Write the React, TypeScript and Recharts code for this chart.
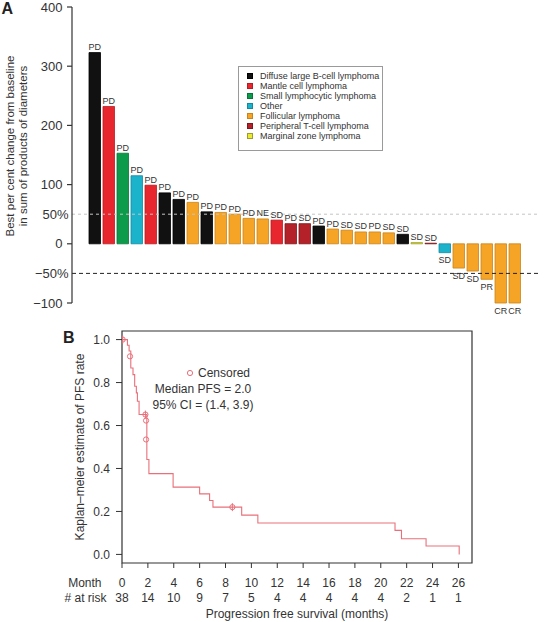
import React from "react";
import {
  BarChart,
  Bar,
  Cell,
  XAxis,
  YAxis,
  ReferenceLine,
  LabelList,
  Legend,
  ComposedChart,
  Line,
  Scatter,
  ReferenceArea,
} from "recharts";

const FONT = "'Liberation Sans', Arial, Helvetica, sans-serif";
const INK = "#333333";

// ---- Panel A: waterfall of best per cent change ----
const patients = [
  1, 2, 3, 4, 5, 6, 7, 8, 9, 10, 11, 12, 13, 14, 15, 16, 17, 18, 19, 20, 21, 22,
  23, 24, 25, 26, 27, 28, 29, 30, 31,
];
const bestChange = [
  323, 232, 153, 115, 99, 86, 75, 70, 54, 53, 50, 43, 42, 40, 34, 34, 30, 25, 23,
  20, 20, 18.5, 16, 2, 1, -15, -41, -46, -60, -100, -100,
];
const subtypes = [
  "dlbcl", "mcl", "sll", "other", "mcl", "dlbcl", "dlbcl", "fl", "dlbcl", "fl",
  "fl", "fl", "fl", "mcl", "ptcl", "ptcl", "dlbcl", "fl", "fl", "fl", "fl", "fl",
  "dlbcl", "mzl", "ptcl", "other", "fl", "fl", "fl", "fl", "fl",
];
const responses = [
  "PD", "PD", "PD", "PD", "PD", "PD", "PD", "PD", "PD", "PD", "PD", "PD", "NE",
  "SD", "PD", "SD", "PD", "PD", "SD", "SD", "PD", "SD", "SD", "SD", "SD", "SD",
  "SD", "SD", "PR", "CR", "CR",
];
const changeTicks = [-100, -50, 0, 50, 100, 200, 300, 400];

const subtypeOrder = ["dlbcl", "mcl", "sll", "other", "fl", "ptcl", "mzl"];
const subtypeNames: Record<string, string> = {
  dlbcl: "Diffuse large B-cell lymphoma",
  mcl: "Mantle cell lymphoma",
  sll: "Small lymphocytic lymphoma",
  other: "Other",
  fl: "Follicular lymphoma",
  ptcl: "Peripheral T-cell lymphoma",
  mzl: "Marginal zone lymphoma",
};
const subtypeFill: Record<string, string> = {
  dlbcl: "#111111",
  mcl: "#E8262E",
  sll: "#0C9B4B",
  other: "#1BB2CC",
  fl: "#F6A425",
  ptcl: "#B42128",
  mzl: "#E9E931",
};
const subtypeStroke: Record<string, string> = {
  dlbcl: "#000000",
  mcl: "#B81C22",
  sll: "#07753A",
  other: "#138AA0",
  fl: "#C98419",
  ptcl: "#7E161C",
  mzl: "#9C9C2A",
};

const waterfallData = patients.map((p, i) => ({
  patient: p,
  change: bestChange[i],
  subtype: subtypes[i],
  response: responses[i],
}));

// ---- Panel B: Kaplan-Meier PFS ----
const kmTimes = [
  0, 0.42, 0.55, 0.68, 0.85, 0.98, 1.11, 1.19, 1.32, 1.92, 2.08, 3.95, 6.0, 6.77,
  7.03, 9.25, 10.5, 21.1, 21.6, 23.5, 26.06,
];
const kmSurvival = [
  1.0, 0.974, 0.947, 0.868, 0.837, 0.783, 0.752, 0.713, 0.651, 0.442, 0.376,
  0.313, 0.282, 0.251, 0.22, 0.183, 0.146, 0.112, 0.073, 0.039, 0.0,
];
const censorTimes = [0.05, 0.62, 1.81, 1.86, 1.86, 8.53];
const censorSurvival = [1.0, 0.922, 0.651, 0.623, 0.535, 0.22];
const censorCross = [true, false, true, false, false, true];
const monthTicks = [0, 2, 4, 6, 8, 10, 12, 14, 16, 18, 20, 22, 24, 26];
const atRisk = [38, 14, 10, 9, 7, 5, 4, 4, 4, 4, 4, 2, 1, 1];
const survTicks = [0, 0.2, 0.4, 0.6, 0.8, 1.0];

const kmData = kmTimes.map((t, i) => ({ t, s: kmSurvival[i] }));
const censorData = censorTimes.map((t, i) => ({
  t,
  s: censorSurvival[i],
  cross: censorCross[i],
}));

const KM_RED = "#E8707A";

const ChangeTick = (props: any) => {
  const { x, y, payload } = props;
  const v = payload.value;
  const pct = Math.abs(v) === 50;
  const label =
    v === 50 ? "50%" : v === -50 ? "\u221250%" : v < 0 ? `\u2212${-v}` : `${v}`;
  return (
    <g>
      {!pct && <line x1={x - 5} x2={x} y1={y} y2={y} stroke={INK} strokeWidth={1.2} />}
      <text
        x={pct ? x - 3.5 : x - 9.5}
        y={y}
        dy="0.36em"
        textAnchor="end"
        fontSize={13}
        fontFamily={FONT}
        fill={INK}
      >
        {label}
      </text>
    </g>
  );
};

const ResponseLabel = (props: any) => {
  const x = Number(props.x);
  const y = Number(props.y);
  const w = Number(props.width);
  const h = Number(props.height);
  const d = waterfallData[props.index];
  if (!d) return null;
  const top = Math.min(y, y + h);
  const bottom = Math.max(y, y + h);
  return (
    <text
      x={x + w / 2}
      y={d.change >= 0 ? top - 2.5 : bottom + 10.5}
      textAnchor="middle"
      fontSize={9}
      fontFamily={FONT}
      fill={INK}
    >
      {d.response}
    </text>
  );
};

const ChangeAxisLabel = (props: any) => {
  const vb = props.viewBox || { x: 0, y: 0, height: 0 };
  const cy = vb.y + vb.height / 2 - 9;
  return (
    <g fontFamily={FONT} fontSize={11.5} fill={INK}>
      <text x={10} y={cy} dy="0.35em" textAnchor="middle" transform={`rotate(-90, 10, ${cy})`}>
        Best per cent change from baseline
      </text>
      <text x={23} y={cy} dy="0.35em" textAnchor="middle" transform={`rotate(-90, 23, ${cy})`}>
        in sum of products of diameters
      </text>
    </g>
  );
};

const SubtypeLegend = () => (
  <div
    style={{
      border: "1px solid #9a9a9a",
      width: 143,
      height: 79,
      boxSizing: "content-box",
      padding: "3.7px 0 0 0",
      fontFamily: FONT,
      fontSize: 9,
      color: INK,
      background: "#fff",
    }}
  >
    {subtypeOrder.map((k) => (
      <div key={k} style={{ display: "flex", alignItems: "center", height: 10, lineHeight: "10px" }}>
        <span
          style={{
            display: "inline-block",
            width: 4,
            height: 4,
            marginLeft: 7.7,
            marginRight: 7.3,
            background: subtypeFill[k],
            border: `0.8px solid ${subtypeStroke[k]}`,
          }}
        />
        <span>{subtypeNames[k]}</span>
      </div>
    ))}
  </div>
);

const MonthTick = (props: any) => {
  const { x, y, payload } = props;
  const i = monthTicks.indexOf(payload.value);
  return (
    <g fontFamily={FONT} fontSize={12} fill={INK}>
      {i === 0 && (
        <>
          <text x={x - 20.5} y={y + 16.8} textAnchor="end">
            Month
          </text>
          <text x={x - 15.5} y={y + 31.8} textAnchor="end">
            # at risk
          </text>
        </>
      )}
      <text x={x} y={y + 16.8} textAnchor="middle">
        {payload.value}
      </text>
      <text x={x} y={y + 31.8} textAnchor="middle">
        {i >= 0 ? atRisk[i] : ""}
      </text>
    </g>
  );
};

const MonthAxisTitle = (props: any) => {
  const vb = props.viewBox || { x: 0, y: 0, width: 0 };
  return (
    <text
      x={vb.x + vb.width / 2}
      y={vb.y + 55.3}
      textAnchor="middle"
      fontFamily={FONT}
      fontSize={12}
      fill={INK}
    >
      Progression free survival (months)
    </text>
  );
};

const SurvAxisLabel = (props: any) => {
  const vb = props.viewBox || { x: 0, y: 0, height: 0 };
  const cy = vb.y + vb.height / 2;
  return (
    <text
      x={80}
      y={cy}
      dy="0.35em"
      textAnchor="middle"
      transform={`rotate(-90, 80, ${cy})`}
      fontFamily={FONT}
      fontSize={12}
      fill={INK}
    >
      Kaplan–meier estimate of PFS rate
    </text>
  );
};

const CensorMark = (props: any) => {
  const { cx, cy, payload } = props;
  return (
    <g>
      <circle cx={cx} cy={cy} r={2.6} fill="none" stroke={KM_RED} strokeWidth={1} />
      {payload && payload.cross && (
        <line x1={cx} x2={cx} y1={cy - 4} y2={cy + 4} stroke={KM_RED} strokeWidth={1} />
      )}
    </g>
  );
};

const PfsLegend = () => (
  <div style={{ width: 120, fontFamily: FONT, fontSize: 12, color: INK, lineHeight: "16px" }}>
    <div style={{ display: "flex", alignItems: "center", marginLeft: 43 }}>
      <svg width={8} height={8} style={{ marginRight: 4 }}>
        <circle cx={4} cy={4} r={2.6} fill="none" stroke={KM_RED} strokeWidth={1} />
      </svg>
      <span>Censored</span>
    </div>
    <div style={{ textAlign: "center" }}>Median PFS = 2.0</div>
    <div style={{ textAlign: "center" }}>95% CI = (1.4, 3.9)</div>
  </div>
);

export default function App() {
  return (
    <div
      style={{
        position: "absolute",
        left: 0,
        top: 0,
        width: 552,
        height: 622,
        background: "#fff",
        fontFamily: FONT,
      }}
    >
      <div
        style={{
          position: "absolute",
          left: 1.5,
          top: 0,
          fontSize: 16,
          fontWeight: "bold",
          color: "#222",
          lineHeight: "18px",
        }}
      >
        A
      </div>
      <div style={{ position: "absolute", left: 0, top: 0 }}>
        <BarChart
          width={552}
          height={320}
          data={waterfallData}
          margin={{ top: 7, right: 14, bottom: 17, left: 0 }}
        >
          <XAxis dataKey="patient" type="category" hide padding={{ left: 16, right: 16 }} />
          <YAxis
            type="number"
            domain={[-100, 400]}
            ticks={changeTicks}
            interval={0}
            width={72}
            tickSize={0}
            tickMargin={0}
            tickLine={false}
            axisLine={{ stroke: INK, strokeWidth: 1.2 }}
            tick={<ChangeTick />}
            label={<ChangeAxisLabel />}
          />
          <ReferenceLine y={50} stroke="#c4c4c4" strokeDasharray="3 3" />
          <ReferenceLine y={-50} stroke="#222" strokeDasharray="4 3" />
          <Legend
            layout="vertical"
            align="center"
            verticalAlign="middle"
            wrapperStyle={{ left: 238, top: 66, width: 145 }}
            content={<SubtypeLegend />}
          />
          <Bar dataKey="change" barSize={11.5} isAnimationActive={false}>
            {waterfallData.map((d) => (
              <Cell
                key={d.patient}
                fill={subtypeFill[d.subtype]}
                stroke={subtypeStroke[d.subtype]}
                strokeWidth={0.8}
              />
            ))}
            <LabelList dataKey="response" content={<ResponseLabel />} />
          </Bar>
        </BarChart>
      </div>

      <div
        style={{
          position: "absolute",
          left: 63,
          top: 329,
          fontSize: 16,
          fontWeight: "bold",
          color: "#222",
          lineHeight: "18px",
        }}
      >
        B
      </div>
      <div style={{ position: "absolute", left: 0, top: 325 }}>
        <ComposedChart
          width={552}
          height={297}
          margin={{ top: 6, right: 80, bottom: 3, left: 0 }}
        >
          <XAxis
            dataKey="t"
            type="number"
            domain={[0, 27.05]}
            ticks={monthTicks}
            interval={0}
            allowDataOverflow
            height={56}
            tickSize={5}
            tickMargin={2}
            axisLine={false}
            tickLine={{ stroke: INK }}
            tick={<MonthTick />}
            label={<MonthAxisTitle />}
          />
          <YAxis
            dataKey="s"
            type="number"
            domain={[-0.04, 1.04]}
            ticks={survTicks}
            interval={0}
            allowDataOverflow
            width={122}
            tickSize={6}
            tickMargin={6}
            axisLine={false}
            tickLine={{ stroke: INK }}
            tickFormatter={(v: number) => v.toFixed(1)}
            tick={{ fontSize: 12, fill: INK, fontFamily: FONT }}
            label={<SurvAxisLabel />}
          />
          <ReferenceArea
            x1={0}
            x2={27.05}
            y1={-0.04}
            y2={1.04}
            fill="none"
            stroke={INK}
            strokeWidth={1.2}
            fillOpacity={0}
          />
          <Legend
            layout="vertical"
            align="center"
            verticalAlign="middle"
            wrapperStyle={{ left: 143, top: 39.5, width: 120 }}
            content={<PfsLegend />}
          />
          <Line
            data={kmData}
            dataKey="s"
            type="stepAfter"
            stroke={KM_RED}
            strokeWidth={1.1}
            dot={false}
            isAnimationActive={false}
          />
          <Scatter data={censorData} dataKey="s" shape={<CensorMark />} isAnimationActive={false} />
        </ComposedChart>
      </div>
    </div>
  );
}
